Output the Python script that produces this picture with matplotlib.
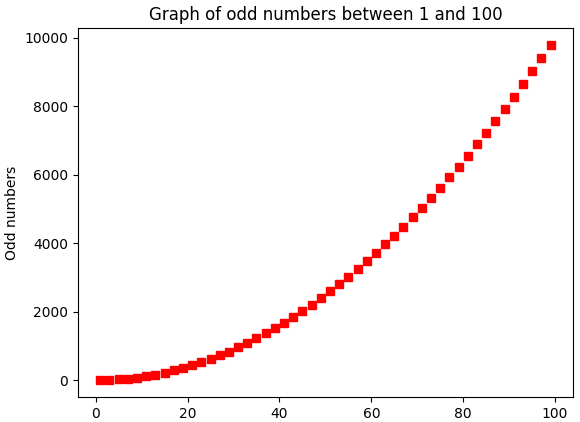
import matplotlib
matplotlib.use('Agg')
import matplotlib.pyplot as plt

odd_numbers = [1, 3, 5, 7, 9, 11, 13, 15, 17, 19, 21, 23, 25, 27, 29, 31, 33, 35, 37, 39,
               41, 43, 45, 47, 49, 51, 53, 55, 57, 59, 61, 63, 65, 67, 69, 71, 73, 75, 77, 79,
               81, 83, 85, 87, 89, 91, 93, 95, 97, 99]
values = [1, 9, 25, 49, 81, 121, 169, 225, 289, 361, 441, 529, 625, 729, 841, 961, 1089,
          1225, 1369, 1521, 1681, 1849, 2025, 2209, 2401, 2601, 2809, 3025, 3249, 3481,
          3721, 3969, 4225, 4489, 4761, 5041, 5329, 5625, 5929, 6241, 6561, 6889, 7225,
          7569, 7921, 8281, 8649, 9025, 9409, 9801]

fig = plt.figure(figsize=(5.8, 4.22), dpi=100)
plt.plot(odd_numbers, values, 'rs')
plt.title('Graph of odd numbers between 1 and 100')
plt.ylabel('Odd numbers')
plt.subplots_adjust(left=0.134, right=0.988, top=0.934, bottom=0.059)
plt.savefig('out.png')
